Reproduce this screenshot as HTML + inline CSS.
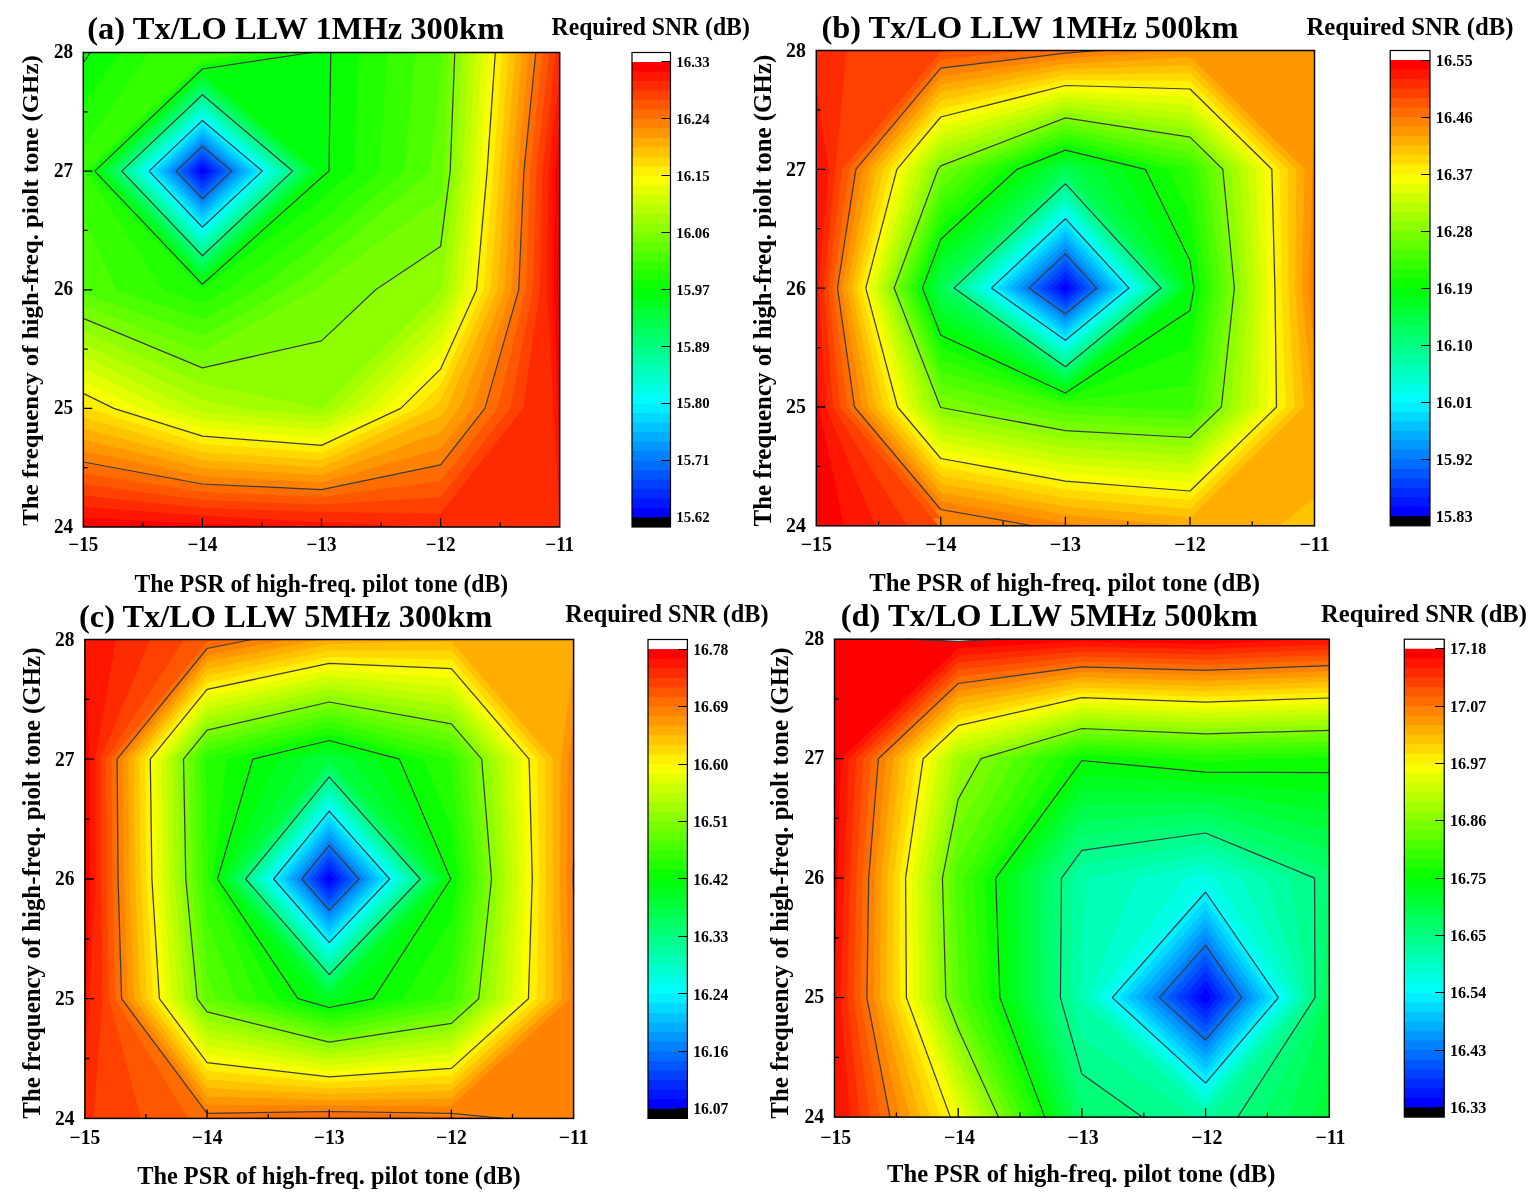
<!DOCTYPE html>
<html><head><meta charset="utf-8"><title>Required SNR contour plots</title>
<style>html,body{margin:0;padding:0;background:#fff}svg{display:block}text{font-family:'Liberation Serif', serif;font-weight:bold;fill:#000}</style>
</head><body>
<svg width="1536" height="1199" viewBox="0 0 1536 1199">
<rect width="1536" height="1199" fill="#fff"/>
<g fill-rule="evenodd">
<rect x="83.3" y="52.5" width="476.4" height="474.5" fill="#0000ff"/>
<path d="M83.3 527L83.3 52.5L559.7 52.5L559.7 527ZM202.4 167.6L198.7 171.1L202.4 175L206.6 171.1Z" fill="#0016ff"/>
<path d="M83.3 527L83.3 52.5L559.7 52.5L559.7 527ZM202.4 163.3L194.2 171.1L202.4 179.8L211.6 171.1Z" fill="#002bff"/>
<path d="M83.3 527L83.3 52.5L559.7 52.5L559.7 527ZM202.4 159L189.6 171.1L202.4 184.5L216.7 171.1Z" fill="#0041ff"/>
<path d="M83.3 527L83.3 52.5L559.7 52.5L559.7 527ZM202.4 154.7L185.1 171.1L202.4 189.3L221.7 171.1Z" fill="#0057ff"/>
<path d="M83.3 527L83.3 52.5L559.7 52.5L559.7 527ZM202.4 150.5L180.6 171.1L202.4 194L226.8 171.1Z" fill="#006dff"/>
<path d="M83.3 527L83.3 52.5L559.7 52.5L559.7 527ZM202.4 146.2L176.1 171.1L202.4 198.8L231.9 171.1Z" fill="#0082ff"/>
<path d="M83.3 527L83.3 52.5L559.7 52.5L559.7 527ZM202.4 141.9L171.6 171.1L202.4 203.5L236.9 171.1Z" fill="#0098ff"/>
<path d="M83.3 527L83.3 52.5L559.7 52.5L559.7 527ZM202.4 137.6L167 171.1L202.4 208.3L242 171.1Z" fill="#00aeff"/>
<path d="M83.3 527L83.3 52.5L559.7 52.5L559.7 527ZM202.4 133.3L162.5 171.1L202.4 213L247.1 171.1Z" fill="#00c3ff"/>
<path d="M83.3 527L83.3 52.5L559.7 52.5L559.7 527ZM202.4 129L158 171.1L202.4 217.8L252.1 171.1Z" fill="#00d9ff"/>
<path d="M83.3 527L83.3 52.5L559.7 52.5L559.7 527ZM202.4 124.7L153.5 171.1L202.4 222.5L257.2 171.1Z" fill="#00efff"/>
<path d="M83.3 527L83.3 52.5L559.7 52.5L559.7 527ZM202.4 120.4L149 171.1L202.4 227.3L262.3 171.1Z" fill="#00fffa"/>
<path d="M83.3 527L83.3 52.5L559.7 52.5L559.7 527ZM202.4 116.1L144.4 171.1L202.4 232.1L267.3 171.1Z" fill="#00ffe4"/>
<path d="M83.3 527L83.3 52.5L559.7 52.5L559.7 527ZM202.4 111.9L139.9 171.1L202.4 236.8L272.4 171.1Z" fill="#00ffce"/>
<path d="M83.3 527L83.3 52.5L559.7 52.5L559.7 527ZM202.4 107.6L135.4 171.1L202.4 241.6L277.4 171.1Z" fill="#00ffb8"/>
<path d="M83.3 527L83.3 52.5L559.7 52.5L559.7 527ZM202.4 103.3L130.9 171.1L202.4 246.3L282.5 171.1Z" fill="#00ffa3"/>
<path d="M83.3 527L83.3 52.5L559.7 52.5L559.7 527ZM202.4 99L126.3 171.1L202.4 251.1L287.6 171.1Z" fill="#00ff8d"/>
<path d="M83.3 527L83.3 52.5L559.7 52.5L559.7 527ZM202.4 94.7L121.8 171.1L202.4 255.8L292.6 171.1Z" fill="#00ff77"/>
<path d="M83.3 527L83.3 52.5L559.7 52.5L559.7 527ZM202.4 90.4L117.3 171.1L202.4 260.6L297.7 171.1Z" fill="#00ff62"/>
<path d="M83.3 527L83.3 52.5L559.7 52.5L559.7 527ZM202.4 86.1L112.8 171.1L202.4 265.3L302.8 171.1Z" fill="#00ff4c"/>
<path d="M83.3 527L83.3 52.5L559.7 52.5L559.7 527ZM202.4 81.8L108.3 171.1L202.4 270.1L307.8 171.1Z" fill="#00ff36"/>
<path d="M83.3 527L83.3 52.5L559.7 52.5L559.7 527ZM202.4 77.5L103.7 171.1L202.4 274.8L312.9 171.1Z" fill="#00ff21"/>
<path d="M83.3 527L83.3 52.5L559.7 52.5L559.7 527ZM202.4 73.3L99.2 171.1L202.4 279.6L318 171.1Z" fill="#00ff0b"/>
<path d="M83.3 527L83.3 62.8L90.3 52.5L312.1 52.5L202.4 69L94.7 171.1L202.4 284.3L321.5 177.5L329 171.1L330.8 52.5L559.7 52.5L559.7 527Z" fill="#0bff00"/>
<path d="M83.3 527L83.3 105.8L119.5 52.5L283.5 52.5L202.4 64.7L90.2 171.1L202.4 289.1L321.5 198.9L354.2 171.1L358.9 52.5L559.7 52.5L559.7 527Z" fill="#21ff00"/>
<path d="M83.3 527L83.3 148.8L148.7 52.5L255 52.5L202.4 60.4L85.7 171.1L162.7 289.7L202.4 303.6L227.3 289.7L321.5 220.3L379.3 171.1L387.1 52.5L559.7 52.5L559.7 527Z" fill="#36ff00"/>
<path d="M83.3 527L83.3 218.6L116.5 289.7L202.4 319.6L256.3 289.7L321.5 241.7L404.4 171.1L415.3 52.5L559.7 52.5L559.7 527Z" fill="#4cff00"/>
<path d="M83.3 527L83.3 293.3L202.4 335.7L285.3 289.7L321.5 263L429.5 171.1L440.6 74.5L441.3 52.5L559.7 52.5L559.7 527Z" fill="#62ff00"/>
<path d="M83.3 527L83.3 305.8L202.4 351.8L314.3 289.7L321.5 284.4L440.6 198.1L444 171.1L448 52.5L559.7 52.5L559.7 527Z" fill="#77ff00"/>
<path d="M83.3 527L83.3 318.3L202.4 367.9L321.5 340.9L375.6 289.8L440.6 246.4L450.2 171.1L454.8 52.5L559.7 52.5L559.7 527Z" fill="#8dff00"/>
<path d="M320.7 408.4L321.5 408.4L321.7 408.4L440.6 291.3L441.3 289.7L456.3 171.1L461.5 52.5L559.7 52.5L559.7 527L83.3 527L83.3 330.8L202.4 383.9Z" fill="#a3ff00"/>
<path d="M242.9 408.4L321.5 415.8L337.5 408.4L440.6 306.9L448.3 289.7L462.5 171.1L468.3 52.5L559.7 52.5L559.7 527L83.3 527L83.3 343.3L202.4 400Z" fill="#b8ff00"/>
<path d="M83.3 527L83.3 355.8L190.2 408.4L202.4 412.2L321.5 423.2L353.3 408.4L440.6 322.4L455.4 289.7L468.6 171.1L475 52.5L559.7 52.5L559.7 527Z" fill="#ceff00"/>
<path d="M83.3 527L83.3 368.3L164.7 408.4L202.4 420.2L321.5 430.6L369.1 408.4L440.6 338L462.4 289.7L474.8 171.1L481.8 52.5L559.7 52.5L559.7 527Z" fill="#e4ff00"/>
<path d="M83.3 527L83.3 380.8L139.3 408.4L202.4 428.1L321.5 438L384.9 408.4L440.6 353.6L469.5 289.7L480.9 171.1L488.5 52.5L559.7 52.5L559.7 527Z" fill="#faff00"/>
<path d="M83.3 527L83.3 393.4L113.8 408.4L202.4 436.1L321.5 445.4L400.7 408.4L440.6 369.1L476.5 289.7L487.1 171.1L495.3 52.5L559.7 52.5L559.7 527Z" fill="#ffef00"/>
<path d="M83.3 527L83.3 405.9L88.4 408.4L202.4 444.1L321.5 452.8L416.6 408.4L440.6 384.7L483.5 289.7L493.2 171.1L502 52.5L559.7 52.5L559.7 527Z" fill="#ffd900"/>
<path d="M83.3 527L83.3 417.3L202.4 452.1L321.5 460.2L432.4 408.4L440.6 400.3L490.6 289.7L499.4 171.1L508.8 52.5L559.7 52.5L559.7 527Z" fill="#ffc300"/>
<path d="M440.6 416.2L446.7 408.4L497.6 289.7L505.5 171.1L515.5 52.5L559.7 52.5L559.7 527L83.3 527L83.3 428.5L202.4 460L321.5 467.6Z" fill="#ffae00"/>
<path d="M440.6 432.4L459.4 408.4L504.7 289.7L511.6 171.1L522.3 52.5L559.7 52.5L559.7 527L83.3 527L83.3 439.7L202.4 468L321.5 475Z" fill="#ff9800"/>
<path d="M440.6 448.6L472.2 408.4L511.7 289.7L517.8 171.1L529 52.5L559.7 52.5L559.7 527L83.3 527L83.3 450.8L202.4 476L321.5 482.4Z" fill="#ff8200"/>
<path d="M440.6 464.8L484.9 408.4L518.7 289.7L523.9 171.1L535.8 52.5L559.7 52.5L559.7 527L83.3 527L83.3 462L202.4 484L321.5 489.7Z" fill="#ff6d00"/>
<path d="M440.6 481L497.6 408.4L525.8 289.7L530.1 171.1L542.6 52.5L559.7 52.5L559.7 527L83.3 527L83.3 473.2L202.4 491.9L321.5 497.1Z" fill="#ff5700"/>
<path d="M440.6 497.2L510.3 408.4L532.8 289.7L536.2 171.1L549.3 52.5L559.7 52.5L559.7 527L83.3 527L83.3 484.3L202.4 499.9L321.5 504.5Z" fill="#ff4100"/>
<path d="M83.3 527L83.3 495.5L202.4 507.9L321.5 511.9L440.6 513.4L523.1 408.4L539.8 289.7L542.4 171.1L556.1 52.5L559.7 52.5L559.7 527Z" fill="#ff2b00"/>
<path d="M424.7 527L83.3 527L83.3 506.7L202.4 515.8ZM546.9 289.7L548.5 171.1L559.7 76.4L559.7 517.7Z" fill="#ff1600"/>
<path d="M325.5 527L83.3 527L83.3 517.8L202.4 523.8ZM553.9 289.7L554.7 171.1L559.7 128.5L559.7 459.5Z" fill="#ff0000"/>
</g>
<path d="M231.9 171.1L202.4 198.8L176.1 171.1L202.4 146.2ZM202.4 227.3L149 171.1M149 171.1L202.4 120.4L262.3 171.1L202.4 227.3M121.8 171.1L202.4 94.7L292.6 171.1L202.4 255.8ZM90.3 52.5L83.3 62.8M202.4 284.3L94.7 171.1M94.7 171.1L202.4 69M330.8 52.5L329 171.1L321.5 177.5L202.4 284.3M202.4 69L312.1 52.5M454.8 52.5L450.2 171.1L440.6 246.4L375.6 289.8L321.5 340.9L202.4 367.9L83.3 318.3M113.8 408.4L83.3 393.4M495.3 52.5L487.1 171.1L476.5 289.8L440.6 369.1L400.7 408.4L321.5 445.4L202.4 436.1L113.8 408.4M202.4 484L83.3 462M440.6 464.8L321.5 489.7L202.4 484M535.8 52.5L523.9 171.1L518.7 289.8L484.9 408.4L440.6 464.8" fill="none" stroke="#3c3c3c" stroke-width="1.25" stroke-linejoin="round"/>
<rect x="83.3" y="52.5" width="476.4" height="474.5" fill="none" stroke="#000" stroke-width="1.5"/>
<path d="M142.8 527v-4.5M83.3 467.7h4.5M202.4 527v-9M83.3 408.4h9M261.9 527v-4.5M83.3 349.1h4.5M321.5 527v-9M83.3 289.8h9M381.1 527v-4.5M83.3 230.4h4.5M440.6 527v-9M83.3 171.1h9M500.2 527v-4.5M83.3 111.8h4.5" stroke="#000" stroke-width="1.3" fill="none"/>
<text transform="translate(83.3 550.7) scale(0.9530 1)" text-anchor="middle" font-size="20.0">−15</text>
<text transform="translate(202.4 550.7) scale(0.9530 1)" text-anchor="middle" font-size="20.0">−14</text>
<text transform="translate(321.5 550.7) scale(0.9530 1)" text-anchor="middle" font-size="20.0">−13</text>
<text transform="translate(440.6 550.7) scale(0.9530 1)" text-anchor="middle" font-size="20.0">−12</text>
<text transform="translate(559.7 550.7) scale(0.9530 1)" text-anchor="middle" font-size="20.0">−11</text>
<text transform="translate(73 532.6) scale(0.9530 1)" text-anchor="end" font-size="20.0">24</text>
<text transform="translate(73 414) scale(0.9530 1)" text-anchor="end" font-size="20.0">25</text>
<text transform="translate(73 295.4) scale(0.9530 1)" text-anchor="end" font-size="20.0">26</text>
<text transform="translate(73 176.7) scale(0.9530 1)" text-anchor="end" font-size="20.0">27</text>
<text transform="translate(73 58.1) scale(0.9530 1)" text-anchor="end" font-size="20.0">28</text>
<text transform="translate(87.2 39.3) scale(1.0000 1)" text-anchor="start" font-size="32.55">(a) Tx/LO LLW 1MHz 300km</text>
<text transform="translate(321.3 591.9) scale(0.9530 1)" text-anchor="middle" font-size="24.85">The PSR of high-freq. pilot tone (dB)</text>
<text transform="translate(38 290.6) scale(0.9522 1) rotate(-90)" text-anchor="middle" font-size="24.87">The frequency of high-freq. piolt tone (GHz)</text>
<g>
<rect x="632" y="52.5" width="38.5" height="474.5" fill="#000"/>
<rect x="632" y="52.5" width="38.5" height="465.01" fill="#0000ff"/>
<rect x="632" y="52.5" width="38.5" height="455.52" fill="#0016ff"/>
<rect x="632" y="52.5" width="38.5" height="446.03" fill="#002bff"/>
<rect x="632" y="52.5" width="38.5" height="436.54" fill="#0041ff"/>
<rect x="632" y="52.5" width="38.5" height="427.05" fill="#0057ff"/>
<rect x="632" y="52.5" width="38.5" height="417.56" fill="#006dff"/>
<rect x="632" y="52.5" width="38.5" height="408.07" fill="#0082ff"/>
<rect x="632" y="52.5" width="38.5" height="398.58" fill="#0098ff"/>
<rect x="632" y="52.5" width="38.5" height="389.09" fill="#00aeff"/>
<rect x="632" y="52.5" width="38.5" height="379.60" fill="#00c3ff"/>
<rect x="632" y="52.5" width="38.5" height="370.11" fill="#00d9ff"/>
<rect x="632" y="52.5" width="38.5" height="360.62" fill="#00efff"/>
<rect x="632" y="52.5" width="38.5" height="351.13" fill="#00fffa"/>
<rect x="632" y="52.5" width="38.5" height="341.64" fill="#00ffe4"/>
<rect x="632" y="52.5" width="38.5" height="332.15" fill="#00ffce"/>
<rect x="632" y="52.5" width="38.5" height="322.66" fill="#00ffb8"/>
<rect x="632" y="52.5" width="38.5" height="313.17" fill="#00ffa3"/>
<rect x="632" y="52.5" width="38.5" height="303.68" fill="#00ff8d"/>
<rect x="632" y="52.5" width="38.5" height="294.19" fill="#00ff77"/>
<rect x="632" y="52.5" width="38.5" height="284.70" fill="#00ff62"/>
<rect x="632" y="52.5" width="38.5" height="275.21" fill="#00ff4c"/>
<rect x="632" y="52.5" width="38.5" height="265.72" fill="#00ff36"/>
<rect x="632" y="52.5" width="38.5" height="256.23" fill="#00ff21"/>
<rect x="632" y="52.5" width="38.5" height="246.74" fill="#00ff0b"/>
<rect x="632" y="52.5" width="38.5" height="237.25" fill="#0bff00"/>
<rect x="632" y="52.5" width="38.5" height="227.76" fill="#21ff00"/>
<rect x="632" y="52.5" width="38.5" height="218.27" fill="#36ff00"/>
<rect x="632" y="52.5" width="38.5" height="208.78" fill="#4cff00"/>
<rect x="632" y="52.5" width="38.5" height="199.29" fill="#62ff00"/>
<rect x="632" y="52.5" width="38.5" height="189.80" fill="#77ff00"/>
<rect x="632" y="52.5" width="38.5" height="180.31" fill="#8dff00"/>
<rect x="632" y="52.5" width="38.5" height="170.82" fill="#a3ff00"/>
<rect x="632" y="52.5" width="38.5" height="161.33" fill="#b8ff00"/>
<rect x="632" y="52.5" width="38.5" height="151.84" fill="#ceff00"/>
<rect x="632" y="52.5" width="38.5" height="142.35" fill="#e4ff00"/>
<rect x="632" y="52.5" width="38.5" height="132.86" fill="#faff00"/>
<rect x="632" y="52.5" width="38.5" height="123.37" fill="#ffef00"/>
<rect x="632" y="52.5" width="38.5" height="113.88" fill="#ffd900"/>
<rect x="632" y="52.5" width="38.5" height="104.39" fill="#ffc300"/>
<rect x="632" y="52.5" width="38.5" height="94.90" fill="#ffae00"/>
<rect x="632" y="52.5" width="38.5" height="85.41" fill="#ff9800"/>
<rect x="632" y="52.5" width="38.5" height="75.92" fill="#ff8200"/>
<rect x="632" y="52.5" width="38.5" height="66.43" fill="#ff6d00"/>
<rect x="632" y="52.5" width="38.5" height="56.94" fill="#ff5700"/>
<rect x="632" y="52.5" width="38.5" height="47.45" fill="#ff4100"/>
<rect x="632" y="52.5" width="38.5" height="37.96" fill="#ff2b00"/>
<rect x="632" y="52.5" width="38.5" height="28.47" fill="#ff1600"/>
<rect x="632" y="52.5" width="38.5" height="18.98" fill="#ff0000"/>
<rect x="632" y="52.5" width="38.5" height="9.49" fill="#ffffff"/>
</g>
<rect x="632" y="52.5" width="38.5" height="474.5" fill="none" stroke="#000" stroke-width="1.2"/>
<text transform="translate(676.3 522.3) scale(0.9530 1)" text-anchor="start" font-size="15.6">15.62</text>
<text transform="translate(676.3 465.4) scale(0.9530 1)" text-anchor="start" font-size="15.6">15.71</text>
<text transform="translate(676.3 408.4) scale(0.9530 1)" text-anchor="start" font-size="15.6">15.80</text>
<text transform="translate(676.3 351.5) scale(0.9530 1)" text-anchor="start" font-size="15.6">15.89</text>
<text transform="translate(676.3 294.6) scale(0.9530 1)" text-anchor="start" font-size="15.6">15.97</text>
<text transform="translate(676.3 237.6) scale(0.9530 1)" text-anchor="start" font-size="15.6">16.06</text>
<text transform="translate(676.3 180.7) scale(0.9530 1)" text-anchor="start" font-size="15.6">16.15</text>
<text transform="translate(676.3 123.7) scale(0.9530 1)" text-anchor="start" font-size="15.6">16.24</text>
<text transform="translate(676.3 66.8) scale(0.9530 1)" text-anchor="start" font-size="15.6">16.33</text>
<path d="M670.5 517.5h-9M670.5 460.5h-9M670.5 403.5h-9M670.5 346.5h-9M670.5 289.5h-9M670.5 232.5h-9M670.5 175.5h-9M670.5 118.5h-9M670.5 61.5h-9" stroke="#000" stroke-width="1.2" fill="none"/>
<text transform="translate(650.7 35.2) scale(0.9530 1)" text-anchor="middle" font-size="24.85">Required SNR (dB)</text>
<g fill-rule="evenodd">
<rect x="816.3" y="50.5" width="498.2" height="475.3" fill="#0000ff"/>
<path d="M816.3 525.8L816.3 50.5L1314.5 50.5L1314.5 525.8ZM1059.9 288.1L1065.4 292L1070.1 288.1L1065.4 283Z" fill="#0016ff"/>
<path d="M816.3 525.8L816.3 50.5L1314.5 50.5L1314.5 525.8ZM1053.7 288.1L1065.4 296.4L1075.5 288.1L1065.4 277.2Z" fill="#002bff"/>
<path d="M816.3 525.8L816.3 50.5L1314.5 50.5L1314.5 525.8ZM1047.4 288.1L1065.4 300.8L1080.8 288.1L1065.4 271.3Z" fill="#0041ff"/>
<path d="M816.3 525.8L816.3 50.5L1314.5 50.5L1314.5 525.8ZM1041.2 288.1L1065.4 305.2L1086.2 288.1L1065.4 265.5Z" fill="#0057ff"/>
<path d="M816.3 525.8L816.3 50.5L1314.5 50.5L1314.5 525.8ZM1035 288.1L1065.4 309.6L1091.5 288.1L1065.4 259.6Z" fill="#006dff"/>
<path d="M816.3 525.8L816.3 50.5L1314.5 50.5L1314.5 525.8ZM1028.7 288.1L1065.4 314L1096.9 288.1L1065.4 253.8Z" fill="#0082ff"/>
<path d="M816.3 525.8L816.3 50.5L1314.5 50.5L1314.5 525.8ZM1022.5 288.1L1065.4 318.4L1102.2 288.1L1065.4 248Z" fill="#0098ff"/>
<path d="M816.3 525.8L816.3 50.5L1314.5 50.5L1314.5 525.8ZM1016.3 288.1L1065.4 322.8L1107.6 288.1L1065.4 242.1Z" fill="#00aeff"/>
<path d="M816.3 525.8L816.3 50.5L1314.5 50.5L1314.5 525.8ZM1010 288.1L1065.4 327.1L1112.9 288.1L1065.4 236.3Z" fill="#00c3ff"/>
<path d="M816.3 525.8L816.3 50.5L1314.5 50.5L1314.5 525.8ZM1003.8 288.1L1065.4 331.5L1118.3 288.1L1065.4 230.4Z" fill="#00d9ff"/>
<path d="M816.3 525.8L816.3 50.5L1314.5 50.5L1314.5 525.8ZM997.6 288.1L1065.4 335.9L1123.6 288.1L1065.4 224.6Z" fill="#00efff"/>
<path d="M816.3 525.8L816.3 50.5L1314.5 50.5L1314.5 525.8ZM991.3 288.1L1065.4 340.3L1129 288.1L1065.4 218.7Z" fill="#00fffa"/>
<path d="M816.3 525.8L816.3 50.5L1314.5 50.5L1314.5 525.8ZM985.1 288.1L1065.4 344.7L1134.3 288.1L1065.4 212.9Z" fill="#00ffe4"/>
<path d="M816.3 525.8L816.3 50.5L1314.5 50.5L1314.5 525.8ZM978.9 288.1L1065.4 349.1L1139.7 288.1L1065.4 207.1Z" fill="#00ffce"/>
<path d="M816.3 525.8L816.3 50.5L1314.5 50.5L1314.5 525.8ZM972.6 288.1L1065.4 353.5L1145 288.1L1065.4 201.2Z" fill="#00ffb8"/>
<path d="M816.3 525.8L816.3 50.5L1314.5 50.5L1314.5 525.8ZM966.4 288.1L1065.4 357.9L1150.4 288.1L1065.4 195.4Z" fill="#00ffa3"/>
<path d="M816.3 525.8L816.3 50.5L1314.5 50.5L1314.5 525.8ZM960.2 288.1L1065.4 362.3L1155.7 288.1L1065.4 189.5Z" fill="#00ff8d"/>
<path d="M816.3 525.8L816.3 50.5L1314.5 50.5L1314.5 525.8ZM953.9 288.1L1065.4 366.7L1161.1 288.1L1065.4 183.7Z" fill="#00ff77"/>
<path d="M816.3 525.8L816.3 50.5L1314.5 50.5L1314.5 525.8ZM947.7 288.1L1065.4 371.1L1166.4 288.1L1065.4 177.9Z" fill="#00ff62"/>
<path d="M816.3 525.8L816.3 50.5L1314.5 50.5L1314.5 525.8ZM941.5 288.1L1065.4 375.4L1171.8 288.1L1065.4 172Z" fill="#00ff4c"/>
<path d="M816.3 525.8L816.3 50.5L1314.5 50.5L1314.5 525.8ZM1058 169.3L940.9 276.9L936.6 288.1L940.9 299L1065.4 379.8L1177.1 288.1L1077.6 169.3L1065.4 166.4Z" fill="#00ff36"/>
<path d="M816.3 525.8L816.3 50.5L1314.5 50.5L1314.5 525.8ZM1044.4 169.3L940.9 264.3L931.9 288.1L940.9 311.1L1065.4 384.2L1182.5 288.1L1100.1 169.3L1065.4 161Z" fill="#00ff21"/>
<path d="M816.3 525.8L816.3 50.5L1314.5 50.5L1314.5 525.8ZM1030.7 169.3L940.9 251.8L927.2 288.1L940.9 323.2L1065.4 388.6L1187.8 288.1L1122.7 169.3L1065.4 155.6Z" fill="#00ff0b"/>
<path d="M816.3 525.8L816.3 50.5L1314.5 50.5L1314.5 525.8ZM1017.1 169.3L940.9 239.3L922.5 288.1L940.9 335.2L1065.4 393L1189.9 310.6L1194 288.1L1189.9 260.5L1145.3 169.3L1065.4 150.2Z" fill="#0bff00"/>
<path d="M816.3 525.8L816.3 50.5L1314.5 50.5L1314.5 525.8ZM1003.4 169.3L940.9 226.7L917.7 288.1L940.9 347.3L1065.4 397.4L1189.9 347.9L1200.7 288.1L1189.9 214.5L1167.8 169.3L1065.4 144.8Z" fill="#21ff00"/>
<path d="M816.3 525.8L816.3 50.5L1314.5 50.5L1314.5 525.8ZM940.9 214.2L913 288.1L940.9 359.4L1065.4 401.8L1189.9 385.3L1207.5 288.1L1190.1 169.3L1189.9 169.2L1065.4 139.4L989.7 169.3Z" fill="#36ff00"/>
<path d="M816.3 525.8L816.3 50.5L1314.5 50.5L1314.5 525.8ZM940.9 201.7L908.3 288.1L940.9 371.5L1065.4 406.2L1102.8 407L1189.9 410.7L1193.8 407L1214.2 288.1L1198.3 169.3L1189.9 161.1L1065.4 134L976.1 169.3Z" fill="#4cff00"/>
<path d="M816.3 525.8L816.3 50.5L1314.5 50.5L1314.5 525.8ZM1065.4 413.9L1189.9 419.6L1203 407L1221 288.1L1206.5 169.3L1189.9 153.1L1065.4 128.6L962.4 169.3L940.9 189.1L903.6 288.1L940.9 383.5L1028.4 407Z" fill="#62ff00"/>
<path d="M816.3 525.8L816.3 50.5L1314.5 50.5L1314.5 525.8ZM1065.4 422.3L1189.9 428.6L1212.2 407L1227.7 288.1L1214.6 169.3L1189.9 145.1L1065.4 123.2L948.8 169.3L940.9 176.6L898.9 288.1L940.9 395.6L983.3 407Z" fill="#77ff00"/>
<path d="M816.3 525.8L816.3 50.5L1314.5 50.5L1314.5 525.8ZM940.9 165.9L938 169.3L894.1 288.1L940.4 407L940.9 407.5L1065.4 430.7L1189.9 437.5L1221.4 407L1234.4 288.1L1222.8 169.3L1189.9 137.1L1065.4 117.8Z" fill="#8dff00"/>
<path d="M816.3 525.8L816.3 50.5L1314.5 50.5L1314.5 525.8ZM940.9 157.8L931.1 169.3L889.4 288.1L933.3 407L940.9 416L1065.4 439.1L1189.9 446.4L1230.5 407L1241.2 288.1L1231 169.3L1189.9 129.1L1065.4 112.4Z" fill="#a3ff00"/>
<path d="M816.3 525.8L816.3 50.5L1314.5 50.5L1314.5 525.8ZM940.9 149.6L924.3 169.3L884.7 288.1L926.1 407L940.9 424.5L1065.4 447.5L1189.9 455.3L1239.7 407L1247.9 288.2L1239.1 169.3L1189.9 121.1L1065.4 107.1Z" fill="#b8ff00"/>
<path d="M816.3 525.8L816.3 50.5L1314.5 50.5L1314.5 525.8ZM940.9 141.5L917.5 169.3L880 288.1L918.9 407L940.9 433L1065.4 455.9L1189.9 464.2L1248.9 407L1254.7 288.2L1247.3 169.3L1189.9 113L1065.4 101.7Z" fill="#ceff00"/>
<path d="M816.3 525.8L816.3 50.5L1314.5 50.5L1314.5 525.8ZM940.9 133.3L910.6 169.3L875.3 288.1L911.8 407L940.9 441.5L1065.4 464.3L1189.9 473.2L1258.1 407L1261.4 288.2L1255.5 169.3L1189.9 105L1065.4 96.3Z" fill="#e4ff00"/>
<path d="M816.3 525.8L816.3 50.5L1314.5 50.5L1314.5 525.8ZM940.9 125.2L903.8 169.3L870.6 288.1L904.6 407L940.9 450L1065.4 472.7L1189.9 482.1L1267.3 407L1268.1 288.2L1263.7 169.3L1189.9 97L1065.4 90.9Z" fill="#faff00"/>
<path d="M816.3 525.8L816.3 50.5L1314.5 50.5L1314.5 525.8ZM940.9 117L896.9 169.3L865.8 288.1L897.5 407L940.9 458.5L1065.4 481.1L1189.9 491L1276.5 407L1274.9 288.2L1271.8 169.3L1189.9 89L1065.4 85.5Z" fill="#ffef00"/>
<path d="M816.3 525.8L816.3 50.5L1314.5 50.5L1314.5 525.8ZM940.9 108.9L890.1 169.3L861.1 288.1L890.3 407L940.9 467L1065.4 489.6L1189.9 499.9L1285.7 407L1281.6 288.2L1280 169.3L1189.9 81L1065.4 80.1Z" fill="#ffd900"/>
<path d="M816.3 525.8L816.3 50.5L1314.5 50.5L1314.5 525.8ZM940.9 100.7L883.3 169.3L856.4 288.2L883.2 407L940.9 475.5L1065.4 498L1189.9 508.9L1294.8 407L1288.3 288.2L1288.2 169.3L1189.9 73L1065.4 74.7Z" fill="#ffc300"/>
<path d="M816.3 525.8L816.3 50.5L1314.5 50.5L1314.5 497.3L1278.9 525.8ZM940.9 92.6L876.4 169.3L851.7 288.2L876 407L940.9 484L1065.4 506.4L1189.9 517.8L1304 407L1295.1 288.2L1296.4 169.3L1189.9 64.9L1065.4 69.3Z" fill="#ffae00"/>
<path d="M816.3 525.8L816.3 50.5L1314.5 50.5L1314.5 418.1L1313.2 407L1301.8 288.2L1304.5 169.3L1189.9 56.9L1065.4 63.9L940.9 84.4L869.6 169.3L847 288.2L868.8 407L940.9 492.5L1065.4 514.8L1181.1 525.8Z" fill="#ff9800"/>
<path d="M816.3 525.8L816.3 50.5L1175.1 50.5L1065.4 58.5L940.9 76.3L862.7 169.3L842.2 288.2L861.7 407L940.9 501L1065.4 523.2L1092.8 525.8ZM1314.5 348.2L1308.6 288.2L1312.7 169.3L1314.5 133Z" fill="#ff8200"/>
<path d="M816.3 525.8L816.3 50.5L1101 50.5L1065.4 53.1L940.9 68.1L855.9 169.3L837.5 288.2L854.5 407L940.9 509.5Z" fill="#ff6d00"/>
<path d="M816.3 525.8L816.3 50.5L1026.8 50.5L940.9 60L849.1 169.3L832.8 288.2L847.4 407L940.9 518Z" fill="#ff5700"/>
<path d="M816.3 50.5L952.7 50.5L940.9 51.8L842.2 169.3L828.1 288.2L840.2 407L938.3 525.8L816.3 525.8Z" fill="#ff4100"/>
<path d="M816.3 50.5L846.6 50.5L835.4 169.3L823.4 288.2L833 407L906.9 525.8L816.3 525.8Z" fill="#ff2b00"/>
<path d="M816.3 84.9L828.5 169.3L818.7 288.2L825.9 407L875.4 525.8L816.3 525.8Z" fill="#ff1600"/>
<path d="M816.3 358.9L818.7 407L844 525.8L816.3 525.8Z" fill="#ff0000"/>
</g>
<path d="M1028.7 288.1L1065.4 253.8L1096.9 288.1L1065.4 314ZM991.3 288.1L1065.4 218.7L1129 288.1L1065.4 340.3ZM953.9 288.1L1065.4 183.7L1161.1 288.1L1065.4 366.7ZM922.5 288.1L940.8 239.3L1017.1 169.3L1065.4 150.2L1145.3 169.3L1190 260.5L1194 288.1M1190 310.6L1065.4 393L940.8 335.2L922.5 288.1M1194 288.1L1190 310.6M894.1 288.1L938 169.3L940.8 165.9L1065.4 117.8L1190 137.1L1222.8 169.3L1234.4 288.1L1221.4 407L1190 437.5L1065.4 430.7L940.8 407.5L940.4 407ZM865.8 288.1L896.9 169.3L940.8 117L1065.4 85.5L1190 89L1271.8 169.3L1274.9 288.1L1276.5 407L1190 491M897.5 407L865.8 288.1M1065.4 481.1L940.8 458.5L897.5 407M1190 491L1065.4 481.1M837.5 288.1L855.9 169.3M1032.5 525.8L940.8 509.5L854.5 407L837.5 288.1M855.9 169.3L940.8 68.1L1065.4 53.1L1101 50.5" fill="none" stroke="#3c3c3c" stroke-width="1.25" stroke-linejoin="round"/>
<rect x="816.3" y="50.5" width="498.2" height="475.3" fill="none" stroke="#000" stroke-width="1.5"/>
<path d="M878.6 525.8v-4.5M816.3 466.4h4.5M940.8 525.8v-9M816.3 407h9M1003.1 525.8v-4.5M816.3 347.6h4.5M1065.4 525.8v-9M816.3 288.1h9M1127.7 525.8v-4.5M816.3 228.7h4.5M1190 525.8v-9M816.3 169.3h9M1252.2 525.8v-4.5M816.3 109.9h4.5" stroke="#000" stroke-width="1.3" fill="none"/>
<text transform="translate(816.3 551.3) scale(0.9966 1)" text-anchor="middle" font-size="20.0">−15</text>
<text transform="translate(940.8 551.3) scale(0.9966 1)" text-anchor="middle" font-size="20.0">−14</text>
<text transform="translate(1065.4 551.3) scale(0.9966 1)" text-anchor="middle" font-size="20.0">−13</text>
<text transform="translate(1190 551.3) scale(0.9966 1)" text-anchor="middle" font-size="20.0">−12</text>
<text transform="translate(1314.5 551.3) scale(0.9966 1)" text-anchor="middle" font-size="20.0">−11</text>
<text transform="translate(806 532.2) scale(0.9966 1)" text-anchor="end" font-size="20.0">24</text>
<text transform="translate(806 413.4) scale(0.9966 1)" text-anchor="end" font-size="20.0">25</text>
<text transform="translate(806 294.5) scale(0.9966 1)" text-anchor="end" font-size="20.0">26</text>
<text transform="translate(806 175.7) scale(0.9966 1)" text-anchor="end" font-size="20.0">27</text>
<text transform="translate(806 56.9) scale(0.9966 1)" text-anchor="end" font-size="20.0">28</text>
<text transform="translate(821.5 37.8) scale(1.0000 1)" text-anchor="start" font-size="32.4">(b) Tx/LO LLW 1MHz 500km</text>
<text transform="translate(1064.7 591.3) scale(0.9966 1)" text-anchor="middle" font-size="24.85">The PSR of high-freq. pilot tone (dB)</text>
<text transform="translate(770.9 290.6) scale(0.9937 1) rotate(-90)" text-anchor="middle" font-size="24.92">The frequency of high-freq. piolt tone (GHz)</text>
<g>
<rect x="1390.2" y="50.5" width="39.8" height="475.3" fill="#000"/>
<rect x="1390.2" y="50.5" width="39.8" height="465.79" fill="#0000ff"/>
<rect x="1390.2" y="50.5" width="39.8" height="456.29" fill="#0016ff"/>
<rect x="1390.2" y="50.5" width="39.8" height="446.78" fill="#002bff"/>
<rect x="1390.2" y="50.5" width="39.8" height="437.28" fill="#0041ff"/>
<rect x="1390.2" y="50.5" width="39.8" height="427.77" fill="#0057ff"/>
<rect x="1390.2" y="50.5" width="39.8" height="418.26" fill="#006dff"/>
<rect x="1390.2" y="50.5" width="39.8" height="408.76" fill="#0082ff"/>
<rect x="1390.2" y="50.5" width="39.8" height="399.25" fill="#0098ff"/>
<rect x="1390.2" y="50.5" width="39.8" height="389.75" fill="#00aeff"/>
<rect x="1390.2" y="50.5" width="39.8" height="380.24" fill="#00c3ff"/>
<rect x="1390.2" y="50.5" width="39.8" height="370.73" fill="#00d9ff"/>
<rect x="1390.2" y="50.5" width="39.8" height="361.23" fill="#00efff"/>
<rect x="1390.2" y="50.5" width="39.8" height="351.72" fill="#00fffa"/>
<rect x="1390.2" y="50.5" width="39.8" height="342.22" fill="#00ffe4"/>
<rect x="1390.2" y="50.5" width="39.8" height="332.71" fill="#00ffce"/>
<rect x="1390.2" y="50.5" width="39.8" height="323.20" fill="#00ffb8"/>
<rect x="1390.2" y="50.5" width="39.8" height="313.70" fill="#00ffa3"/>
<rect x="1390.2" y="50.5" width="39.8" height="304.19" fill="#00ff8d"/>
<rect x="1390.2" y="50.5" width="39.8" height="294.69" fill="#00ff77"/>
<rect x="1390.2" y="50.5" width="39.8" height="285.18" fill="#00ff62"/>
<rect x="1390.2" y="50.5" width="39.8" height="275.67" fill="#00ff4c"/>
<rect x="1390.2" y="50.5" width="39.8" height="266.17" fill="#00ff36"/>
<rect x="1390.2" y="50.5" width="39.8" height="256.66" fill="#00ff21"/>
<rect x="1390.2" y="50.5" width="39.8" height="247.16" fill="#00ff0b"/>
<rect x="1390.2" y="50.5" width="39.8" height="237.65" fill="#0bff00"/>
<rect x="1390.2" y="50.5" width="39.8" height="228.14" fill="#21ff00"/>
<rect x="1390.2" y="50.5" width="39.8" height="218.64" fill="#36ff00"/>
<rect x="1390.2" y="50.5" width="39.8" height="209.13" fill="#4cff00"/>
<rect x="1390.2" y="50.5" width="39.8" height="199.63" fill="#62ff00"/>
<rect x="1390.2" y="50.5" width="39.8" height="190.12" fill="#77ff00"/>
<rect x="1390.2" y="50.5" width="39.8" height="180.61" fill="#8dff00"/>
<rect x="1390.2" y="50.5" width="39.8" height="171.11" fill="#a3ff00"/>
<rect x="1390.2" y="50.5" width="39.8" height="161.60" fill="#b8ff00"/>
<rect x="1390.2" y="50.5" width="39.8" height="152.10" fill="#ceff00"/>
<rect x="1390.2" y="50.5" width="39.8" height="142.59" fill="#e4ff00"/>
<rect x="1390.2" y="50.5" width="39.8" height="133.08" fill="#faff00"/>
<rect x="1390.2" y="50.5" width="39.8" height="123.58" fill="#ffef00"/>
<rect x="1390.2" y="50.5" width="39.8" height="114.07" fill="#ffd900"/>
<rect x="1390.2" y="50.5" width="39.8" height="104.57" fill="#ffc300"/>
<rect x="1390.2" y="50.5" width="39.8" height="95.06" fill="#ffae00"/>
<rect x="1390.2" y="50.5" width="39.8" height="85.55" fill="#ff9800"/>
<rect x="1390.2" y="50.5" width="39.8" height="76.05" fill="#ff8200"/>
<rect x="1390.2" y="50.5" width="39.8" height="66.54" fill="#ff6d00"/>
<rect x="1390.2" y="50.5" width="39.8" height="57.04" fill="#ff5700"/>
<rect x="1390.2" y="50.5" width="39.8" height="47.53" fill="#ff4100"/>
<rect x="1390.2" y="50.5" width="39.8" height="38.02" fill="#ff2b00"/>
<rect x="1390.2" y="50.5" width="39.8" height="28.52" fill="#ff1600"/>
<rect x="1390.2" y="50.5" width="39.8" height="19.01" fill="#ff0000"/>
<rect x="1390.2" y="50.5" width="39.8" height="9.51" fill="#ffffff"/>
</g>
<rect x="1390.2" y="50.5" width="39.8" height="475.3" fill="none" stroke="#000" stroke-width="1.2"/>
<text transform="translate(1435.8 521.9) scale(0.9966 1)" text-anchor="start" font-size="16.4">15.83</text>
<text transform="translate(1435.8 464.9) scale(0.9966 1)" text-anchor="start" font-size="16.4">15.92</text>
<text transform="translate(1435.8 407.8) scale(0.9966 1)" text-anchor="start" font-size="16.4">16.01</text>
<text transform="translate(1435.8 350.8) scale(0.9966 1)" text-anchor="start" font-size="16.4">16.10</text>
<text transform="translate(1435.8 293.8) scale(0.9966 1)" text-anchor="start" font-size="16.4">16.19</text>
<text transform="translate(1435.8 236.7) scale(0.9966 1)" text-anchor="start" font-size="16.4">16.28</text>
<text transform="translate(1435.8 179.7) scale(0.9966 1)" text-anchor="start" font-size="16.4">16.37</text>
<text transform="translate(1435.8 122.6) scale(0.9966 1)" text-anchor="start" font-size="16.4">16.46</text>
<text transform="translate(1435.8 65.6) scale(0.9966 1)" text-anchor="start" font-size="16.4">16.55</text>
<path d="M1430 516.5h-9M1430 459.5h-9M1430 402.5h-9M1430 345.5h-9M1430 288.5h-9M1430 231.5h-9M1430 174.5h-9M1430 117.5h-9M1430 60.5h-9" stroke="#000" stroke-width="1.2" fill="none"/>
<text transform="translate(1410 34.5) scale(0.9966 1)" text-anchor="middle" font-size="24.85">Required SNR (dB)</text>
<g fill-rule="evenodd">
<rect x="84.9" y="639.5" width="488.7" height="478.9" fill="#0000ff"/>
<path d="M84.9 1118.4L84.9 639.5L573.6 639.5L573.6 1118.4ZM325.1 878.9L329.3 883.7L333.7 878.9L329.3 873.9Z" fill="#0016ff"/>
<path d="M84.9 1118.4L84.9 639.5L573.6 639.5L573.6 1118.4ZM320.4 878.9L329.3 889L338.8 878.9L329.3 868.2Z" fill="#002bff"/>
<path d="M84.9 1118.4L84.9 639.5L573.6 639.5L573.6 1118.4ZM315.8 878.9L329.3 894.4L343.9 878.9L329.3 862.5Z" fill="#0041ff"/>
<path d="M84.9 1118.4L84.9 639.5L573.6 639.5L573.6 1118.4ZM311.1 878.9L329.3 899.7L349 878.9L329.3 856.8Z" fill="#0057ff"/>
<path d="M84.9 1118.4L84.9 639.5L573.6 639.5L573.6 1118.4ZM306.4 878.9L329.3 905.1L354.1 878.9L329.3 851.1Z" fill="#006dff"/>
<path d="M84.9 1118.4L84.9 639.5L573.6 639.5L573.6 1118.4ZM301.7 878.9L329.3 910.4L359.2 878.9L329.3 845.4Z" fill="#0082ff"/>
<path d="M84.9 1118.4L84.9 639.5L573.6 639.5L573.6 1118.4ZM297 878.9L329.3 915.8L364.3 878.9L329.3 839.7Z" fill="#0098ff"/>
<path d="M84.9 1118.4L84.9 639.5L573.6 639.5L573.6 1118.4ZM292.4 878.9L329.3 921.2L369.4 878.9L329.3 834Z" fill="#00aeff"/>
<path d="M84.9 1118.4L84.9 639.5L573.6 639.5L573.6 1118.4ZM287.7 878.9L329.3 926.5L374.5 878.9L329.3 828.3Z" fill="#00c3ff"/>
<path d="M84.9 1118.4L84.9 639.5L573.6 639.5L573.6 1118.4ZM283 878.9L329.3 931.9L379.5 878.9L329.3 822.5Z" fill="#00d9ff"/>
<path d="M84.9 1118.4L84.9 639.5L573.6 639.5L573.6 1118.4ZM278.3 878.9L329.3 937.2L384.6 878.9L329.3 816.8Z" fill="#00efff"/>
<path d="M84.9 1118.4L84.9 639.5L573.6 639.5L573.6 1118.4ZM273.6 878.9L329.3 942.6L389.7 878.9L329.3 811.1Z" fill="#00fffa"/>
<path d="M84.9 1118.4L84.9 639.5L573.6 639.5L573.6 1118.4ZM269 878.9L329.3 947.9L394.8 878.9L329.3 805.4Z" fill="#00ffe4"/>
<path d="M84.9 1118.4L84.9 639.5L573.6 639.5L573.6 1118.4ZM264.3 878.9L329.3 953.3L399.9 878.9L329.3 799.7Z" fill="#00ffce"/>
<path d="M84.9 1118.4L84.9 639.5L573.6 639.5L573.6 1118.4ZM259.6 878.9L329.3 958.7L405 878.9L329.3 794Z" fill="#00ffb8"/>
<path d="M84.9 1118.4L84.9 639.5L573.6 639.5L573.6 1118.4ZM254.9 878.9L329.3 964L410.1 878.9L329.3 788.3Z" fill="#00ffa3"/>
<path d="M84.9 1118.4L84.9 639.5L573.6 639.5L573.6 1118.4ZM250.2 878.9L329.3 969.4L415.2 878.9L329.3 782.6Z" fill="#00ff8d"/>
<path d="M84.9 1118.4L84.9 639.5L573.6 639.5L573.6 1118.4ZM245.6 878.9L329.3 974.7L420.3 878.9L329.3 776.9Z" fill="#00ff77"/>
<path d="M84.9 1118.4L84.9 639.5L573.6 639.5L573.6 1118.4ZM240.9 878.9L329.3 980.1L425.4 878.9L329.3 771.2Z" fill="#00ff62"/>
<path d="M84.9 1118.4L84.9 639.5L573.6 639.5L573.6 1118.4ZM236.2 878.9L329.3 985.4L430.5 878.9L329.3 765.4Z" fill="#00ff4c"/>
<path d="M84.9 1118.4L84.9 639.5L573.6 639.5L573.6 1118.4ZM231.5 878.9L329.3 990.8L435.5 878.9L329.3 759.7Z" fill="#00ff36"/>
<path d="M84.9 1118.4L84.9 639.5L573.6 639.5L573.6 1118.4ZM305.3 759.2L226.8 878.9L329.3 996.2L440.6 878.9L351.2 759.2L329.2 753.4Z" fill="#00ff21"/>
<path d="M84.9 1118.4L84.9 639.5L573.6 639.5L573.6 1118.4ZM279.1 759.2L222.1 878.9L318.4 998.7L329.3 1001.7L344.6 998.7L445.7 878.9L375.3 759.2L329.2 747Z" fill="#00ff0b"/>
<path d="M84.9 1118.4L84.9 639.5L573.6 639.5L573.6 1118.4ZM252.8 759.2L217.5 878.9L297.9 998.7L329.3 1007.5L373.4 998.7L450.8 878.9L399.4 759.2L329.2 740.5Z" fill="#0bff00"/>
<path d="M84.9 1118.4L84.9 639.5L573.6 639.5L573.6 1118.4ZM226.5 759.2L212.8 878.9L277.5 998.7L329.3 1013.3L402.3 998.7L451.4 919.8L457.4 878.9L451.4 827.3L423.5 759.2L329.2 734.1Z" fill="#21ff00"/>
<path d="M84.9 1118.4L84.9 639.5L573.6 639.5L573.6 1118.4ZM207.1 757.5L205.6 759.2L207.1 824.1L208.1 878.9L257 998.7L329.3 1019.1L431.2 998.7L451.4 966.2L464.2 878.9L451.4 768.6L447.6 759.2L329.2 727.7Z" fill="#36ff00"/>
<path d="M84.9 1118.4L84.9 639.5L573.6 639.5L573.6 1118.4ZM329.3 1024.8L451.4 1000.9L453.9 998.7L471 878.9L458.1 759.2L451.4 751.5L329.2 721.2L207.1 750.6L200.1 759.2L202.7 878.9L207.1 921L236.5 998.7Z" fill="#4cff00"/>
<path d="M84.9 1118.4L84.9 639.5L573.6 639.5L573.6 1118.4ZM329.3 1030.6L451.4 1008.4L462.2 998.7L477.8 878.9L465.9 759.2L451.4 742.3L329.3 714.8L207.1 743.8L194.6 759.2L197 878.9L207.1 974.9L216.1 998.7Z" fill="#62ff00"/>
<path d="M84.9 1118.4L84.9 639.5L573.6 639.5L573.6 1118.4ZM207.1 737L189 759.2L191.4 878.9L203.5 998.7L207.1 1003.4L329.3 1036.4L451.4 1015.9L470.5 998.7L484.7 878.9L473.8 759.2L451.4 733.1L329.3 708.4Z" fill="#77ff00"/>
<path d="M84.9 1118.4L84.9 639.5L573.6 639.5L573.6 1118.4ZM207.1 730.2L183.5 759.2L185.8 878.9L197.2 998.7L207.1 1011.9L329.3 1042.2L451.4 1023.4L478.7 998.7L491.5 878.9L481.7 759.2L451.4 723.9L329.3 702Z" fill="#8dff00"/>
<path d="M84.9 1118.4L84.9 639.5L573.6 639.5L573.6 1118.4ZM207.1 723.4L178 759.2L180.1 878.9L190.9 998.7L207.1 1020.3L329.3 1047.9L451.4 1030.9L487 998.7L498.3 878.9L489.6 759.2L451.4 714.7L329.3 695.5Z" fill="#a3ff00"/>
<path d="M84.9 1118.4L84.9 639.5L573.6 639.5L573.6 1118.4ZM207.1 716.6L172.4 759.2L174.5 878.9L184.6 998.7L207.1 1028.8L329.3 1053.7L451.4 1038.4L495.3 998.7L505.1 878.9L497.5 759.2L451.4 705.5L329.3 689.1Z" fill="#b8ff00"/>
<path d="M84.9 1118.4L84.9 639.5L573.6 639.5L573.6 1118.4ZM207.1 709.8L166.9 759.2L168.8 878.9L178.3 998.7L207.1 1037.2L329.3 1059.5L451.4 1045.9L503.6 998.7L511.9 878.9L505.4 759.2L451.4 696.3L329.3 682.7Z" fill="#ceff00"/>
<path d="M84.9 1118.4L84.9 639.5L573.6 639.5L573.6 1118.4ZM207.1 703L161.4 759.2L163.2 878.9L172 998.7L207.1 1045.7L329.3 1065.3L451.4 1053.4L511.9 998.7L518.7 878.9L513.3 759.2L451.4 687.1L329.3 676.3Z" fill="#e4ff00"/>
<path d="M84.9 1118.4L84.9 639.5L573.6 639.5L573.6 1118.4ZM207.1 696.2L155.8 759.2L157.6 878.9L165.7 998.7L207.1 1054.1L329.3 1071L451.4 1060.9L520.1 998.7L525.5 878.9L521.2 759.2L451.4 677.9L329.3 669.8Z" fill="#faff00"/>
<path d="M84.9 1118.4L84.9 639.5L573.6 639.5L573.6 1118.4ZM207.1 689.4L150.3 759.2L151.9 878.9L159.4 998.7L207.1 1062.6L329.3 1076.8L451.4 1068.4L528.4 998.7L532.3 878.9L529.1 759.2L451.4 668.7L329.3 663.4Z" fill="#ffef00"/>
<path d="M84.9 1118.4L84.9 639.5L573.6 639.5L573.6 1118.4ZM207.1 682.5L144.8 759.2L146.3 878.9L153.1 998.7L207.1 1071.1L329.3 1082.6L451.4 1075.9L536.7 998.7L539.1 878.9L537 759.2L451.4 659.5L329.3 657Z" fill="#ffd900"/>
<path d="M84.9 1118.4L84.9 639.5L573.6 639.5L573.6 1118.4ZM207.1 675.7L139.2 759.2L140.6 878.9L146.8 998.7L207.1 1079.5L329.3 1088.4L451.4 1083.4L545 998.7L546 879L544.9 759.2L451.4 650.4L329.3 650.6Z" fill="#ffc300"/>
<path d="M84.9 1118.4L84.9 639.5L573.6 639.5L573.6 1118.4ZM207.1 668.9L133.7 759.2L135 878.9L140.5 998.7L207.1 1088L329.3 1094.1L451.4 1090.9L553.2 998.7L552.8 879L552.8 759.2L451.4 641.2L329.3 644.1Z" fill="#ffae00"/>
<path d="M84.9 1118.4L84.9 639.5L319.7 639.5L207.1 662.1L128.2 759.2L129.3 878.9L134.2 998.7L207.1 1096.4L329.3 1099.9L451.4 1098.4L561.5 998.7L559.6 879L560.7 759.2L573.6 663L573.6 1118.4Z" fill="#ff9800"/>
<path d="M84.9 1118.4L84.9 639.5L285.8 639.5L207.1 655.3L122.6 759.2L123.7 878.9L127.9 998.7L207.1 1104.9L329.3 1105.7L451.4 1105.9L569.8 998.7L566.4 879L568.5 759.2L573.6 721.7L573.6 1118.4Z" fill="#ff8200"/>
<path d="M503.1 1118.4L84.9 1118.4L84.9 639.5L251.9 639.5L207.1 648.5L117.1 759.2L118.1 878.9L121.6 998.7L207.1 1113.3L329.2 1111.5Z" fill="#ff6d00"/>
<path d="M188.1 1118.4L84.9 1118.4L84.9 639.5L217.9 639.5L207.1 641.7L111.6 759.2L112.4 878.9L115.3 998.7Z" fill="#ff5700"/>
<path d="M84.9 639.5L184 639.5L106 759.2L106.8 878.9L109 998.7L140.8 1118.4L84.9 1118.4Z" fill="#ff4100"/>
<path d="M84.9 639.5L150.1 639.5L100.5 759.2L101.1 878.9L102.7 998.7L93.4 1118.4L84.9 1118.4Z" fill="#ff2b00"/>
<path d="M84.9 1081.2L84.9 639.5L116.1 639.5L95 759.2L95.5 878.9Z" fill="#ff1600"/>
<path d="M84.9 1035.9L84.9 650.1L89.4 759.2L89.9 878.9Z" fill="#ff0000"/>
</g>
<path d="M301.7 879L329.2 845.4L359.2 879L329.2 910.4M329.2 910.4L301.7 879M273.6 879L329.2 811.1L389.7 879L329.2 942.6ZM329.2 974.7L245.6 879L329.2 776.9L420.3 879ZM217.5 879L252.8 759.2L329.2 740.5L399.4 759.2L450.8 879L373.4 998.7L329.2 1007.5L297.9 998.7ZM185.8 879L183.5 759.2L207.1 730.2L329.2 702L451.4 723.9M329.2 1042.2L207.1 1011.9L197.2 998.7L185.8 879M451.4 723.9L481.7 759.2L491.5 879L478.7 998.7L451.4 1023.4L329.2 1042.2M329.2 1076.8L207.1 1062.6L159.4 998.7M159.4 998.7L151.9 879L150.3 759.2L207.1 689.4L329.2 663.4L451.4 668.7L529.1 759.2L532.3 879L528.4 998.7L451.4 1068.4M451.4 1068.4L329.2 1076.8M117.1 759.2L207.1 648.5L251.9 639.5M121.6 998.7L118.1 879L117.1 759.2M207.1 1113.3L121.6 998.7M329.2 1111.5L207.1 1113.3M451.4 1113.4L329.2 1111.5M503.1 1118.4L451.4 1113.4M573.6 861.8L573.2 879L573.6 890.9" fill="none" stroke="#3c3c3c" stroke-width="1.25" stroke-linejoin="round"/>
<rect x="84.9" y="639.5" width="488.7" height="478.9" fill="none" stroke="#000" stroke-width="1.5"/>
<path d="M146 1118.4v-4.5M84.9 1058.5h4.5M207.1 1118.4v-9M84.9 998.7h9M268.2 1118.4v-4.5M84.9 938.8h4.5M329.2 1118.4v-9M84.9 879h9M390.3 1118.4v-4.5M84.9 819.1h4.5M451.4 1118.4v-9M84.9 759.2h9M512.5 1118.4v-4.5M84.9 699.4h4.5" stroke="#000" stroke-width="1.3" fill="none"/>
<text transform="translate(84.9 1144.4) scale(0.9776 1)" text-anchor="middle" font-size="20.0">−15</text>
<text transform="translate(207.1 1144.4) scale(0.9776 1)" text-anchor="middle" font-size="20.0">−14</text>
<text transform="translate(329.2 1144.4) scale(0.9776 1)" text-anchor="middle" font-size="20.0">−13</text>
<text transform="translate(451.4 1144.4) scale(0.9776 1)" text-anchor="middle" font-size="20.0">−12</text>
<text transform="translate(573.6 1144.4) scale(0.9776 1)" text-anchor="middle" font-size="20.0">−11</text>
<text transform="translate(74.6 1124.8) scale(0.9776 1)" text-anchor="end" font-size="20.0">24</text>
<text transform="translate(74.6 1005.1) scale(0.9776 1)" text-anchor="end" font-size="20.0">25</text>
<text transform="translate(74.6 885.4) scale(0.9776 1)" text-anchor="end" font-size="20.0">26</text>
<text transform="translate(74.6 765.6) scale(0.9776 1)" text-anchor="end" font-size="20.0">27</text>
<text transform="translate(74.6 645.9) scale(0.9776 1)" text-anchor="end" font-size="20.0">28</text>
<text transform="translate(79 626.5) scale(1.0000 1)" text-anchor="start" font-size="32.4">(c) Tx/LO LLW 5MHz 300km</text>
<text transform="translate(329 1184) scale(0.9776 1)" text-anchor="middle" font-size="24.85">The PSR of high-freq. pilot tone (dB)</text>
<text transform="translate(39.9 883.1) scale(0.9757 1) rotate(-90)" text-anchor="middle" font-size="24.90">The frequency of high-freq. piolt tone (GHz)</text>
<g>
<rect x="648" y="639.5" width="39.4" height="478.9" fill="#000"/>
<rect x="648" y="639.5" width="39.4" height="469.32" fill="#0000ff"/>
<rect x="648" y="639.5" width="39.4" height="459.74" fill="#0016ff"/>
<rect x="648" y="639.5" width="39.4" height="450.17" fill="#002bff"/>
<rect x="648" y="639.5" width="39.4" height="440.59" fill="#0041ff"/>
<rect x="648" y="639.5" width="39.4" height="431.01" fill="#0057ff"/>
<rect x="648" y="639.5" width="39.4" height="421.43" fill="#006dff"/>
<rect x="648" y="639.5" width="39.4" height="411.85" fill="#0082ff"/>
<rect x="648" y="639.5" width="39.4" height="402.28" fill="#0098ff"/>
<rect x="648" y="639.5" width="39.4" height="392.70" fill="#00aeff"/>
<rect x="648" y="639.5" width="39.4" height="383.12" fill="#00c3ff"/>
<rect x="648" y="639.5" width="39.4" height="373.54" fill="#00d9ff"/>
<rect x="648" y="639.5" width="39.4" height="363.96" fill="#00efff"/>
<rect x="648" y="639.5" width="39.4" height="354.39" fill="#00fffa"/>
<rect x="648" y="639.5" width="39.4" height="344.81" fill="#00ffe4"/>
<rect x="648" y="639.5" width="39.4" height="335.23" fill="#00ffce"/>
<rect x="648" y="639.5" width="39.4" height="325.65" fill="#00ffb8"/>
<rect x="648" y="639.5" width="39.4" height="316.07" fill="#00ffa3"/>
<rect x="648" y="639.5" width="39.4" height="306.50" fill="#00ff8d"/>
<rect x="648" y="639.5" width="39.4" height="296.92" fill="#00ff77"/>
<rect x="648" y="639.5" width="39.4" height="287.34" fill="#00ff62"/>
<rect x="648" y="639.5" width="39.4" height="277.76" fill="#00ff4c"/>
<rect x="648" y="639.5" width="39.4" height="268.18" fill="#00ff36"/>
<rect x="648" y="639.5" width="39.4" height="258.61" fill="#00ff21"/>
<rect x="648" y="639.5" width="39.4" height="249.03" fill="#00ff0b"/>
<rect x="648" y="639.5" width="39.4" height="239.45" fill="#0bff00"/>
<rect x="648" y="639.5" width="39.4" height="229.87" fill="#21ff00"/>
<rect x="648" y="639.5" width="39.4" height="220.29" fill="#36ff00"/>
<rect x="648" y="639.5" width="39.4" height="210.72" fill="#4cff00"/>
<rect x="648" y="639.5" width="39.4" height="201.14" fill="#62ff00"/>
<rect x="648" y="639.5" width="39.4" height="191.56" fill="#77ff00"/>
<rect x="648" y="639.5" width="39.4" height="181.98" fill="#8dff00"/>
<rect x="648" y="639.5" width="39.4" height="172.40" fill="#a3ff00"/>
<rect x="648" y="639.5" width="39.4" height="162.83" fill="#b8ff00"/>
<rect x="648" y="639.5" width="39.4" height="153.25" fill="#ceff00"/>
<rect x="648" y="639.5" width="39.4" height="143.67" fill="#e4ff00"/>
<rect x="648" y="639.5" width="39.4" height="134.09" fill="#faff00"/>
<rect x="648" y="639.5" width="39.4" height="124.51" fill="#ffef00"/>
<rect x="648" y="639.5" width="39.4" height="114.94" fill="#ffd900"/>
<rect x="648" y="639.5" width="39.4" height="105.36" fill="#ffc300"/>
<rect x="648" y="639.5" width="39.4" height="95.78" fill="#ffae00"/>
<rect x="648" y="639.5" width="39.4" height="86.20" fill="#ff9800"/>
<rect x="648" y="639.5" width="39.4" height="76.62" fill="#ff8200"/>
<rect x="648" y="639.5" width="39.4" height="67.05" fill="#ff6d00"/>
<rect x="648" y="639.5" width="39.4" height="57.47" fill="#ff5700"/>
<rect x="648" y="639.5" width="39.4" height="47.89" fill="#ff4100"/>
<rect x="648" y="639.5" width="39.4" height="38.31" fill="#ff2b00"/>
<rect x="648" y="639.5" width="39.4" height="28.73" fill="#ff1600"/>
<rect x="648" y="639.5" width="39.4" height="19.16" fill="#ff0000"/>
<rect x="648" y="639.5" width="39.4" height="9.58" fill="#ffffff"/>
</g>
<rect x="648" y="639.5" width="39.4" height="478.9" fill="none" stroke="#000" stroke-width="1.2"/>
<text transform="translate(693.2 1114.4) scale(0.9776 1)" text-anchor="start" font-size="16.0">16.07</text>
<text transform="translate(693.2 1057) scale(0.9776 1)" text-anchor="start" font-size="16.0">16.16</text>
<text transform="translate(693.2 999.5) scale(0.9776 1)" text-anchor="start" font-size="16.0">16.24</text>
<text transform="translate(693.2 942) scale(0.9776 1)" text-anchor="start" font-size="16.0">16.33</text>
<text transform="translate(693.2 884.6) scale(0.9776 1)" text-anchor="start" font-size="16.0">16.42</text>
<text transform="translate(693.2 827.1) scale(0.9776 1)" text-anchor="start" font-size="16.0">16.51</text>
<text transform="translate(693.2 769.6) scale(0.9776 1)" text-anchor="start" font-size="16.0">16.60</text>
<text transform="translate(693.2 712.1) scale(0.9776 1)" text-anchor="start" font-size="16.0">16.69</text>
<text transform="translate(693.2 654.7) scale(0.9776 1)" text-anchor="start" font-size="16.0">16.78</text>
<path d="M687.4 1108.5h-9M687.4 1051.5h-9M687.4 993.5h-9M687.4 936.5h-9M687.4 878.5h-9M687.4 821.5h-9M687.4 764.5h-9M687.4 706.5h-9M687.4 649.5h-9" stroke="#000" stroke-width="1.2" fill="none"/>
<text transform="translate(667 622) scale(0.9776 1)" text-anchor="middle" font-size="24.85">Required SNR (dB)</text>
<g fill-rule="evenodd">
<rect x="834.5" y="639.2" width="494.8" height="477.9" fill="#0000ff"/>
<path d="M834.5 1117.1L834.5 639.2L1329.3 639.2L1329.3 1117.1ZM1205.6 989.3L1198.2 997.6L1205.6 1004.4L1211.3 997.6Z" fill="#0016ff"/>
<path d="M834.5 1117.1L834.5 639.2L1329.3 639.2L1329.3 1117.1ZM1205.6 980.5L1190.4 997.6L1205.6 1011.5L1217.4 997.6Z" fill="#002bff"/>
<path d="M834.5 1117.1L834.5 639.2L1329.3 639.2L1329.3 1117.1ZM1205.6 971.6L1182.6 997.6L1205.6 1018.7L1223.5 997.6Z" fill="#0041ff"/>
<path d="M834.5 1117.1L834.5 639.2L1329.3 639.2L1329.3 1117.1ZM1205.6 962.8L1174.8 997.6L1205.6 1025.8L1229.6 997.6Z" fill="#0057ff"/>
<path d="M834.5 1117.1L834.5 639.2L1329.3 639.2L1329.3 1117.1ZM1205.6 953.9L1166.9 997.6L1205.6 1033L1235.7 997.6Z" fill="#006dff"/>
<path d="M834.5 1117.1L834.5 639.2L1329.3 639.2L1329.3 1117.1ZM1205.6 945.1L1159.1 997.6L1205.6 1040.2L1241.8 997.6Z" fill="#0082ff"/>
<path d="M834.5 1117.1L834.5 639.2L1329.3 639.2L1329.3 1117.1ZM1205.6 936.2L1151.3 997.6L1205.6 1047.3L1247.9 997.6Z" fill="#0098ff"/>
<path d="M834.5 1117.1L834.5 639.2L1329.3 639.2L1329.3 1117.1ZM1205.6 927.4L1143.5 997.6L1205.6 1054.5L1254 997.6Z" fill="#00aeff"/>
<path d="M834.5 1117.1L834.5 639.2L1329.3 639.2L1329.3 1117.1ZM1205.6 918.5L1135.7 997.6L1205.6 1061.7L1260.1 997.6Z" fill="#00c3ff"/>
<path d="M834.5 1117.1L834.5 639.2L1329.3 639.2L1329.3 1117.1ZM1205.6 909.7L1127.8 997.6L1205.6 1068.8L1266.2 997.6Z" fill="#00d9ff"/>
<path d="M834.5 1117.1L834.5 639.2L1329.3 639.2L1329.3 1117.1ZM1205.6 900.8L1120 997.6L1205.6 1076L1272.3 997.6Z" fill="#00efff"/>
<path d="M834.5 1117.1L834.5 639.2L1329.3 639.2L1329.3 1117.1ZM1205.6 892L1112.2 997.6L1205.6 1083.1L1278.4 997.6Z" fill="#00fffa"/>
<path d="M834.5 1117.1L834.5 639.2L1329.3 639.2L1329.3 1117.1ZM1205.6 883.1L1104.4 997.6L1205.6 1090.3L1284.5 997.6Z" fill="#00ffe4"/>
<path d="M834.5 1117.1L834.5 639.2L1329.3 639.2L1329.3 1117.1ZM1216.4 878.2L1205.6 873.7L1184.5 878.2L1096.5 997.6L1205.6 1097.5L1290.6 997.6Z" fill="#00ffce"/>
<path d="M834.5 1117.1L834.5 639.2L1329.3 639.2L1329.3 1117.1ZM1240.9 878.2L1205.6 863.5L1136.6 878.2L1088.7 997.6L1205.6 1104.6L1296.7 997.6Z" fill="#00ffb8"/>
<path d="M834.5 1117.1L834.5 639.2L1329.3 639.2L1329.3 1117.1ZM1080.6 997.6L1081.9 1002.3L1205.6 1111.8L1302.8 997.6L1265.5 878.2L1205.6 853.4L1088.6 878.2L1081.9 940.1Z" fill="#00ffa3"/>
<path d="M834.5 639.2L1329.3 639.2L1329.3 1117.1L1212.2 1117.1L1308.9 997.6L1290 878.2L1205.6 843.2L1081.9 865.3L1072.5 878.2L1070.5 997.6L1081.9 1038.2L1192.5 1117.1L834.5 1117.1Z" fill="#00ff8d"/>
<path d="M834.5 639.2L1329.3 639.2L1329.3 1117.1L1237.7 1117.1L1315 997.6L1314.6 878.2L1205.6 833L1081.9 850.3L1061.5 878.2L1060.4 997.6L1081.9 1074L1142.2 1117.1L834.5 1117.1Z" fill="#00ff77"/>
<path d="M834.5 639.2L1329.3 639.2L1329.3 870.3L1205.6 822.9L1081.9 835.3L1050.5 878.2L1050.3 997.6L1081.9 1109.9L1092 1117.1L834.5 1117.1ZM1329.3 1117.1L1263.1 1117.1L1321.1 997.6L1329.3 905.6Z" fill="#00ff62"/>
<path d="M834.5 639.2L1329.3 639.2L1329.3 850.8L1205.6 812.7L1081.9 820.4L1039.6 878.2L1040.3 997.6L1075.7 1117.1L834.5 1117.1ZM1329.3 1117.1L1288.6 1117.1L1327.2 997.6Z" fill="#00ff4c"/>
<path d="M834.5 639.2L1329.3 639.2L1329.3 831.3L1205.6 802.6L1081.9 805.4L1028.6 878.2L1030.2 997.6L1068 1117.1L834.5 1117.1ZM1314 1117.1L1329.3 1060.2L1329.3 1117.1Z" fill="#00ff36"/>
<path d="M834.5 639.2L1329.3 639.2L1329.3 811.8L1205.6 792.4L1081.9 790.4L1017.6 878.2L1020.1 997.6L1060.3 1117.1L834.5 1117.1Z" fill="#00ff21"/>
<path d="M834.5 639.2L1329.3 639.2L1329.3 792.3L1205.6 782.2L1081.9 775.4L1006.7 878.2L1010 997.6L1052.6 1117.1L834.5 1117.1Z" fill="#00ff0b"/>
<path d="M834.5 639.2L1329.3 639.2L1329.3 772.7L1205.6 772.1L1081.9 760.5L995.7 878.2L999.9 997.6L1044.8 1117.1L834.5 1117.1Z" fill="#0bff00"/>
<path d="M834.5 639.2L1329.3 639.2L1329.3 757.2L1271.6 758.7L1205.6 761.9L1172.6 758.7L1081.9 754.2L1066.8 758.7L984.7 878.2L989.9 997.6L1037.1 1117.1L834.5 1117.1Z" fill="#21ff00"/>
<path d="M834.5 1117.1L834.5 639.2L1329.3 639.2L1329.3 751.8L1205.6 755.1L1081.9 749L1049.6 758.7L973.8 878.2L979.8 997.6L1029.4 1117.1Z" fill="#36ff00"/>
<path d="M834.5 1117.1L834.5 639.2L1329.3 639.2L1329.3 746.4L1205.6 749.8L1081.9 743.9L1032.4 758.7L962.8 878.2L969.7 997.6L1021.7 1117.1Z" fill="#4cff00"/>
<path d="M834.5 1117.1L834.5 639.2L1329.3 639.2L1329.3 741L1205.6 744.5L1081.9 738.8L1015.2 758.7L958.2 860.4L954.6 878.2L958.2 974.4L959.6 997.6L1013.9 1117.1Z" fill="#62ff00"/>
<path d="M834.5 1117.1L834.5 639.2L1329.3 639.2L1329.3 735.6L1205.6 739.2L1081.9 733.6L998.1 758.7L958.2 829.7L948.5 878.2L952.5 997.6L958.2 1012.1L1006.2 1117.1Z" fill="#77ff00"/>
<path d="M834.5 1117.1L834.5 639.2L1329.3 639.2L1329.3 730.3L1205.6 733.9L1081.9 728.5L980.9 758.7L958.2 799.1L942.4 878.2L945.9 997.6L958.2 1029L998.5 1117.1Z" fill="#8dff00"/>
<path d="M834.5 1117.1L834.5 639.2L1329.3 639.2L1329.3 724.9L1205.6 728.6L1081.9 723.4L963.7 758.7L958.2 768.5L936.2 878.2L939.4 997.6L958.2 1045.9L990.8 1117.1Z" fill="#a3ff00"/>
<path d="M834.5 1117.1L834.5 639.2L1329.3 639.2L1329.3 719.5L1205.6 723.3L1081.9 718.2L958.2 753.9L953.1 758.7L930.1 878.2L932.8 997.6L958.2 1062.8L983.1 1117.1Z" fill="#b8ff00"/>
<path d="M834.5 1117.1L834.5 639.2L1329.3 639.2L1329.3 714.1L1205.6 718L1081.9 713.1L958.2 746.9L945.7 758.7L924 878.2L926.2 997.6L958.2 1079.6L975.3 1117.1Z" fill="#ceff00"/>
<path d="M834.5 1117.1L834.5 639.2L1329.3 639.2L1329.3 708.7L1205.6 712.7L1081.9 708L958.2 739.8L938.2 758.7L917.8 878.2L919.6 997.6L958.2 1096.5L967.6 1117.1Z" fill="#e4ff00"/>
<path d="M834.5 639.2L1329.3 639.2L1329.3 703.4L1205.6 707.4L1081.9 702.8L958.2 732.8L930.7 758.7L911.7 878.2L913 997.6L958.2 1113.4L959.9 1117.1L834.5 1117.1Z" fill="#faff00"/>
<path d="M834.5 639.2L1329.3 639.2L1329.3 698L1205.6 702.1L1081.9 697.7L958.2 725.7L923.2 758.7L905.6 878.2L906.4 997.6L950.4 1117.1L834.5 1117.1Z" fill="#ffef00"/>
<path d="M834.5 639.2L1329.3 639.2L1329.3 692.6L1205.6 696.8L1081.9 692.6L958.2 718.7L915.8 758.7L899.4 878.2L899.8 997.6L940.3 1117.1L834.5 1117.1Z" fill="#ffd900"/>
<path d="M834.5 639.2L1329.3 639.2L1329.3 687.2L1205.6 691.5L1081.9 687.4L958.2 711.7L908.3 758.7L893.3 878.2L893.3 997.6L930.2 1117.1L834.5 1117.1Z" fill="#ffc300"/>
<path d="M834.5 639.2L1329.3 639.2L1329.3 681.8L1205.6 686.2L1081.9 682.3L958.2 704.6L900.8 758.7L887.1 878.2L886.7 997.6L920.2 1117.1L834.5 1117.1Z" fill="#ffae00"/>
<path d="M834.5 639.2L1329.3 639.2L1329.3 676.4L1205.6 680.9L1081.9 677.2L958.2 697.6L893.4 758.7L881 878.2L880.1 997.6L910.1 1117.1L834.5 1117.1Z" fill="#ff9800"/>
<path d="M834.5 639.2L1329.3 639.2L1329.3 671.1L1205.6 675.6L1081.9 672L958.2 690.6L885.9 758.7L874.9 878.2L873.5 997.6L900.1 1117.1L834.5 1117.1Z" fill="#ff8200"/>
<path d="M834.5 639.2L1329.3 639.2L1329.3 665.7L1205.6 670.3L1081.9 666.9L958.2 683.5L878.4 758.7L868.7 878.2L866.9 997.6L890 1117.1L834.5 1117.1Z" fill="#ff6d00"/>
<path d="M834.5 639.2L1329.3 639.2L1329.3 660.3L1205.6 665L1081.9 661.8L958.2 676.5L871 758.7L862.6 878.2L860.3 997.6L880 1117.1L834.5 1117.1Z" fill="#ff5700"/>
<path d="M834.5 639.2L1329.3 639.2L1329.3 654.9L1205.6 659.7L1081.9 656.6L958.2 669.5L863.5 758.7L856.5 878.2L853.7 997.6L869.9 1117.1L834.5 1117.1Z" fill="#ff4100"/>
<path d="M834.5 639.2L1329.3 639.2L1329.3 649.5L1205.6 654.5L1081.9 651.5L958.2 662.4L856 758.7L850.3 878.2L847.1 997.6L859.8 1117.1L834.5 1117.1Z" fill="#ff2b00"/>
<path d="M834.5 639.2L1329.3 639.2L1329.3 644.2L1205.6 649.2L1081.9 646.4L958.2 655.4L848.5 758.7L844.2 878.2L840.6 997.6L849.8 1117.1L834.5 1117.1Z" fill="#ff1600"/>
<path d="M834.5 983.1L834.5 639.2L1319 639.2L1205.6 643.9L1081.9 641.3L958.2 648.3L841.1 758.7Z" fill="#ff0000"/>
<path d="M958.2 641.3L906.7 639.2L999.4 639.2Z" fill="#ffffff"/>
</g>
<path d="M1159.1 997.6L1205.6 945.1L1241.8 997.6L1205.6 1040.2ZM1112.2 997.6L1205.6 892L1278.4 997.6M1205.6 1083.1L1112.2 997.6M1278.4 997.6L1205.6 1083.1M1142.2 1117.1L1081.9 1074L1060.4 997.6L1061.5 878.1L1081.9 850.3L1205.6 833L1314.6 878.1L1315 997.6L1237.7 1117.1M1044.8 1117.1L999.9 997.6L995.7 878.1L1081.9 760.5L1205.6 772.1L1329.3 772.7M998.5 1117.1L958.2 1029L945.9 997.6L942.4 878.1L958.2 799.1L980.9 758.7L1081.9 728.5L1205.6 733.9L1329.3 730.3M950.4 1117.1L906.4 997.6L905.6 878.1L923.2 758.7L958.2 725.7L1081.9 697.7L1205.6 702.1L1329.3 698M868.7 878.1L878.4 758.7M890 1117.1L866.9 997.6L868.7 878.1M878.4 758.7L958.2 683.5L1081.9 666.9L1205.6 670.3L1329.3 665.7M906.7 639.2L958.2 641.3L999.4 639.2" fill="none" stroke="#3c3c3c" stroke-width="1.25" stroke-linejoin="round"/>
<rect x="834.5" y="639.2" width="494.8" height="477.9" fill="none" stroke="#000" stroke-width="1.5"/>
<path d="M896.4 1117.1v-4.5M834.5 1057.4h4.5M958.2 1117.1v-9M834.5 997.6h9M1020 1117.1v-4.5M834.5 937.9h4.5M1081.9 1117.1v-9M834.5 878.1h9M1143.8 1117.1v-4.5M834.5 818.4h4.5M1205.6 1117.1v-9M834.5 758.7h9M1267.4 1117.1v-4.5M834.5 698.9h4.5" stroke="#000" stroke-width="1.3" fill="none"/>
<text transform="translate(835.7 1144.4) scale(0.9898 1)" text-anchor="middle" font-size="20.0">−15</text>
<text transform="translate(959.4 1144.4) scale(0.9898 1)" text-anchor="middle" font-size="20.0">−14</text>
<text transform="translate(1083.1 1144.4) scale(0.9898 1)" text-anchor="middle" font-size="20.0">−13</text>
<text transform="translate(1206.8 1144.4) scale(0.9898 1)" text-anchor="middle" font-size="20.0">−12</text>
<text transform="translate(1330.5 1144.4) scale(0.9898 1)" text-anchor="middle" font-size="20.0">−11</text>
<text transform="translate(824.2 1122.7) scale(0.9898 1)" text-anchor="end" font-size="20.0">24</text>
<text transform="translate(824.2 1003.2) scale(0.9898 1)" text-anchor="end" font-size="20.0">25</text>
<text transform="translate(824.2 883.8) scale(0.9898 1)" text-anchor="end" font-size="20.0">26</text>
<text transform="translate(824.2 764.3) scale(0.9898 1)" text-anchor="end" font-size="20.0">27</text>
<text transform="translate(824.2 644.8) scale(0.9898 1)" text-anchor="end" font-size="20.0">28</text>
<text transform="translate(840.8 626.3) scale(1.0000 1)" text-anchor="start" font-size="32.4">(d) Tx/LO LLW 5MHz 500km</text>
<text transform="translate(1081.2 1182.2) scale(0.9898 1)" text-anchor="middle" font-size="24.85">The PSR of high-freq. pilot tone (dB)</text>
<text transform="translate(787.8 883.1) scale(0.9879 1) rotate(-90)" text-anchor="middle" font-size="24.90">The frequency of high-freq. piolt tone (GHz)</text>
<g>
<rect x="1404.3" y="639.2" width="39.9" height="477.9" fill="#000"/>
<rect x="1404.3" y="639.2" width="39.9" height="468.34" fill="#0000ff"/>
<rect x="1404.3" y="639.2" width="39.9" height="458.78" fill="#0016ff"/>
<rect x="1404.3" y="639.2" width="39.9" height="449.23" fill="#002bff"/>
<rect x="1404.3" y="639.2" width="39.9" height="439.67" fill="#0041ff"/>
<rect x="1404.3" y="639.2" width="39.9" height="430.11" fill="#0057ff"/>
<rect x="1404.3" y="639.2" width="39.9" height="420.55" fill="#006dff"/>
<rect x="1404.3" y="639.2" width="39.9" height="410.99" fill="#0082ff"/>
<rect x="1404.3" y="639.2" width="39.9" height="401.44" fill="#0098ff"/>
<rect x="1404.3" y="639.2" width="39.9" height="391.88" fill="#00aeff"/>
<rect x="1404.3" y="639.2" width="39.9" height="382.32" fill="#00c3ff"/>
<rect x="1404.3" y="639.2" width="39.9" height="372.76" fill="#00d9ff"/>
<rect x="1404.3" y="639.2" width="39.9" height="363.20" fill="#00efff"/>
<rect x="1404.3" y="639.2" width="39.9" height="353.65" fill="#00fffa"/>
<rect x="1404.3" y="639.2" width="39.9" height="344.09" fill="#00ffe4"/>
<rect x="1404.3" y="639.2" width="39.9" height="334.53" fill="#00ffce"/>
<rect x="1404.3" y="639.2" width="39.9" height="324.97" fill="#00ffb8"/>
<rect x="1404.3" y="639.2" width="39.9" height="315.41" fill="#00ffa3"/>
<rect x="1404.3" y="639.2" width="39.9" height="305.86" fill="#00ff8d"/>
<rect x="1404.3" y="639.2" width="39.9" height="296.30" fill="#00ff77"/>
<rect x="1404.3" y="639.2" width="39.9" height="286.74" fill="#00ff62"/>
<rect x="1404.3" y="639.2" width="39.9" height="277.18" fill="#00ff4c"/>
<rect x="1404.3" y="639.2" width="39.9" height="267.62" fill="#00ff36"/>
<rect x="1404.3" y="639.2" width="39.9" height="258.07" fill="#00ff21"/>
<rect x="1404.3" y="639.2" width="39.9" height="248.51" fill="#00ff0b"/>
<rect x="1404.3" y="639.2" width="39.9" height="238.95" fill="#0bff00"/>
<rect x="1404.3" y="639.2" width="39.9" height="229.39" fill="#21ff00"/>
<rect x="1404.3" y="639.2" width="39.9" height="219.83" fill="#36ff00"/>
<rect x="1404.3" y="639.2" width="39.9" height="210.28" fill="#4cff00"/>
<rect x="1404.3" y="639.2" width="39.9" height="200.72" fill="#62ff00"/>
<rect x="1404.3" y="639.2" width="39.9" height="191.16" fill="#77ff00"/>
<rect x="1404.3" y="639.2" width="39.9" height="181.60" fill="#8dff00"/>
<rect x="1404.3" y="639.2" width="39.9" height="172.04" fill="#a3ff00"/>
<rect x="1404.3" y="639.2" width="39.9" height="162.49" fill="#b8ff00"/>
<rect x="1404.3" y="639.2" width="39.9" height="152.93" fill="#ceff00"/>
<rect x="1404.3" y="639.2" width="39.9" height="143.37" fill="#e4ff00"/>
<rect x="1404.3" y="639.2" width="39.9" height="133.81" fill="#faff00"/>
<rect x="1404.3" y="639.2" width="39.9" height="124.25" fill="#ffef00"/>
<rect x="1404.3" y="639.2" width="39.9" height="114.70" fill="#ffd900"/>
<rect x="1404.3" y="639.2" width="39.9" height="105.14" fill="#ffc300"/>
<rect x="1404.3" y="639.2" width="39.9" height="95.58" fill="#ffae00"/>
<rect x="1404.3" y="639.2" width="39.9" height="86.02" fill="#ff9800"/>
<rect x="1404.3" y="639.2" width="39.9" height="76.46" fill="#ff8200"/>
<rect x="1404.3" y="639.2" width="39.9" height="66.91" fill="#ff6d00"/>
<rect x="1404.3" y="639.2" width="39.9" height="57.35" fill="#ff5700"/>
<rect x="1404.3" y="639.2" width="39.9" height="47.79" fill="#ff4100"/>
<rect x="1404.3" y="639.2" width="39.9" height="38.23" fill="#ff2b00"/>
<rect x="1404.3" y="639.2" width="39.9" height="28.67" fill="#ff1600"/>
<rect x="1404.3" y="639.2" width="39.9" height="19.12" fill="#ff0000"/>
<rect x="1404.3" y="639.2" width="39.9" height="9.56" fill="#ffffff"/>
</g>
<rect x="1404.3" y="639.2" width="39.9" height="477.9" fill="none" stroke="#000" stroke-width="1.2"/>
<text transform="translate(1450 1113.1) scale(0.9898 1)" text-anchor="start" font-size="16.3">16.33</text>
<text transform="translate(1450 1055.8) scale(0.9898 1)" text-anchor="start" font-size="16.3">16.43</text>
<text transform="translate(1450 998.4) scale(0.9898 1)" text-anchor="start" font-size="16.3">16.54</text>
<text transform="translate(1450 941.1) scale(0.9898 1)" text-anchor="start" font-size="16.3">16.65</text>
<text transform="translate(1450 883.8) scale(0.9898 1)" text-anchor="start" font-size="16.3">16.75</text>
<text transform="translate(1450 826.4) scale(0.9898 1)" text-anchor="start" font-size="16.3">16.86</text>
<text transform="translate(1450 769.1) scale(0.9898 1)" text-anchor="start" font-size="16.3">16.97</text>
<text transform="translate(1450 711.7) scale(0.9898 1)" text-anchor="start" font-size="16.3">17.07</text>
<text transform="translate(1450 654.4) scale(0.9898 1)" text-anchor="start" font-size="16.3">17.18</text>
<path d="M1444.2 1107.5h-9M1444.2 1050.5h-9M1444.2 992.5h-9M1444.2 935.5h-9M1444.2 878.5h-9M1444.2 820.5h-9M1444.2 763.5h-9M1444.2 706.5h-9M1444.2 648.5h-9" stroke="#000" stroke-width="1.2" fill="none"/>
<text transform="translate(1424 622.3) scale(0.9898 1)" text-anchor="middle" font-size="24.85">Required SNR (dB)</text>
</svg>
</body></html>
